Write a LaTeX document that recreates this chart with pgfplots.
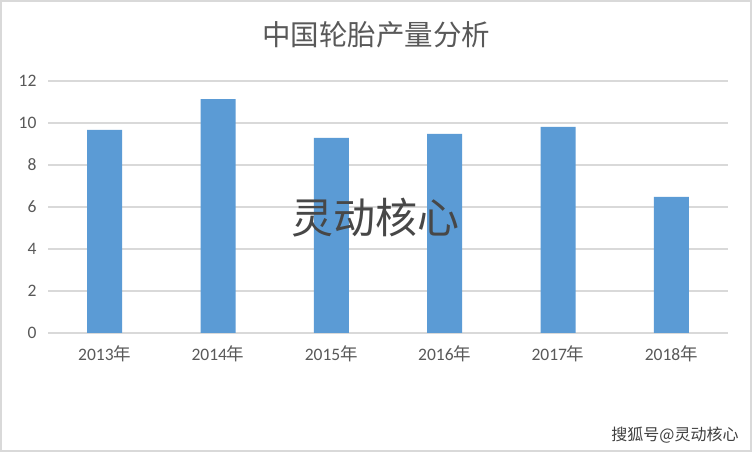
\documentclass[border=0pt]{standalone}
\usepackage{fontspec}
\setmainfont{Carlito}
\newfontfamily\cjk{Noto Sans CJK SC}
\usepackage{pgfplots}
\pgfplotsset{compat=1.18}
\definecolor{barblue}{HTML}{5B9BD5}
\definecolor{gridgray}{HTML}{D9D9D9}
\definecolor{txtgray}{HTML}{595959}
\begin{document}
\begin{tikzpicture}[x=1bp,y=1bp]
\path[use as bounding box] (0,0) rectangle (752,452);
\fill[white] (0,0) rectangle (752,452);
\draw[gridgray, line width=2bp] (1,1) rectangle (751,451);
\begin{axis}[
  at={(48bp,119bp)}, anchor=south west,
  scale only axis, width=680bp, height=252bp,
  xmin=-0.5, xmax=5.5, ymin=0, ymax=12,
  ytick={0,2,4,6,8,10,12},
  xtick={0,1,2,3,4,5},
  xticklabels={2013{\cjk 年},2014{\cjk 年},2015{\cjk 年},2016{\cjk 年},2017{\cjk 年},2018{\cjk 年}},
  ymajorgrids, grid style={gridgray, line width=1.3bp},
  axis line style={draw=none},
  major tick length=0pt,
  /pgf/number format/assume math mode=true,
  tick label style={text=txtgray, font=\fontsize{17.5bp}{20bp}\selectfont},
  xticklabel style={yshift=-9bp},
  yticklabel style={xshift=-8bp},
]
\addplot[ybar, bar width=35bp, fill=barblue, draw=none] coordinates {
  (0,9.67) (1,11.14) (2,9.29) (3,9.48) (4,9.81) (5,6.48)
};
\end{axis}
\node[text=txtgray, font=\cjk\fontsize{28.5bp}{32bp}\selectfont] at (376,417) {中国轮胎产量分析};
\node[text=black!72, font=\cjk\fontsize{42bp}{46bp}\selectfont] at (375,234) {灵动核心};
\node[text=black!75, font=\cjk\fontsize{16bp}{18bp}\selectfont] at (675,17) {搜狐号@灵动核心};
\end{tikzpicture}
\end{document}
